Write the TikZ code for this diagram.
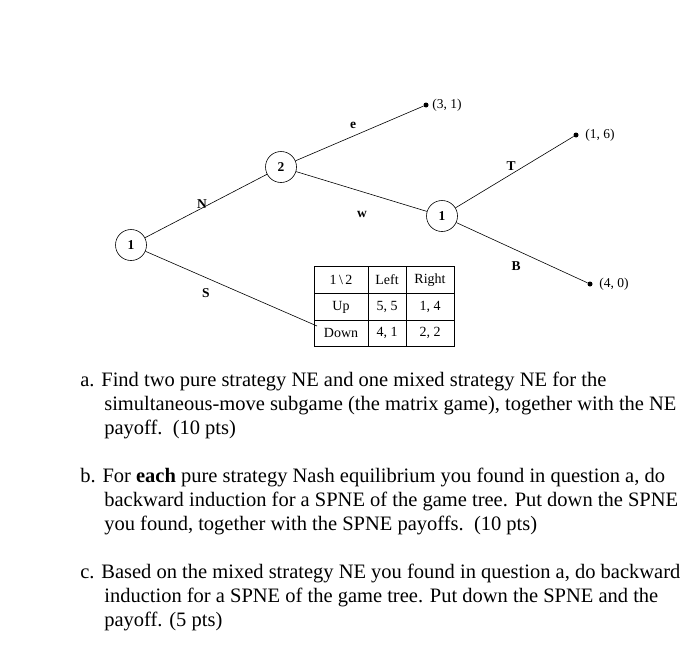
\documentclass[tikz,border=0pt]{standalone}
\usepackage{fontspec}
\setmainfont{Liberation Serif}
\begin{document}
\begin{tikzpicture}[x=1pt,y=-1pt,line width=0.6pt,
  pn/.style={circle,draw,minimum size=31pt,inner sep=0pt,font=\fontsize{13.5}{15}\selectfont\bfseries},
  lf/.style={circle,fill,inner sep=0pt,minimum size=5pt},
  el/.style={font=\fontsize{13.5}{15}\selectfont\bfseries},
  pay/.style={font=\fontsize{13.5}{15}\selectfont,anchor=west},
  tx/.style={anchor=base west,inner sep=0pt,font=\fontsize{20.5}{24}\selectfont},
  cell/.style={font=\fontsize{14}{15}\selectfont}]
\useasboundingbox (0,0) rectangle (700,645);
\node[pn] (r) at (131,245) {1};
\node[pn] (n2) at (281,167) {2};
\node[pn] (n1) at (442,216) {1};
\node[lf] (l31) at (426,105) {};
\node[lf] (l16) at (576,135) {};
\node[lf] (l40) at (590,284) {};
\node[pay] at (l31.east) {(3, 1)};
\node[pay] at ([xshift=3pt]l16.east) {(1, 6)};
\node[pay] at ([xshift=3pt]l40.east) {(4, 0)};
\coordinate (tb) at (317,326);
\draw (r) -- (n2);
\draw (r) -- (tb);
\draw (n2) -- (l31);
\draw (n2) -- (n1);
\draw (n1) -- (l16);
\draw (n1) -- (l40);
\node[el] at (353,125) {e};
\node[el] at (202,204) {N};
\node[el] at (362,214) {w};
\node[el] at (206,293) {S};
\node[el] at (511,166) {T};
\node[el] at (516,266) {B};
% table
\draw (314,266) rectangle (454,346);
\draw (314,293) -- (454,293) (314,320) -- (454,320);
\draw (368,266) -- (368,346) (406,266) -- (406,346);
\node[cell] at (341,280) {1\,\textbackslash\,2};
\node[cell] at (387,280) {Left};
\node[cell] at (430,280) {Right};
\node[cell] at (341,307) {Up};
\node[cell] at (387,307) {5, 5};
\node[cell] at (430,307) {1, 4};
\node[cell] at (341,333) {Down};
\node[cell] at (387,333) {4, 1};
\node[cell] at (430,333) {2, 2};
% text
\node[tx] at (80,386) {a. Find two pure strategy NE and one mixed strategy NE for the};
\node[tx] at (104,410) {simultaneous-move subgame (the matrix game), together with the NE};
\node[tx] at (104,434) {payoff.\ \ (10 pts)};
\node[tx] at (80,482) {b. For \textbf{each} pure strategy Nash equilibrium you found in question a, do};
\node[tx] at (104,506) {backward induction for a SPNE of the game tree. Put down the SPNE};
\node[tx] at (104,530) {you found, together with the SPNE payoffs.\ \ (10 pts)};
\node[tx] at (80,578) {c. Based on the mixed strategy NE you found in question a, do backward};
\node[tx] at (104,602) {induction for a SPNE of the game tree. Put down the SPNE and the};
\node[tx] at (104,626) {payoff. (5 pts)};
\end{tikzpicture}
\end{document}
